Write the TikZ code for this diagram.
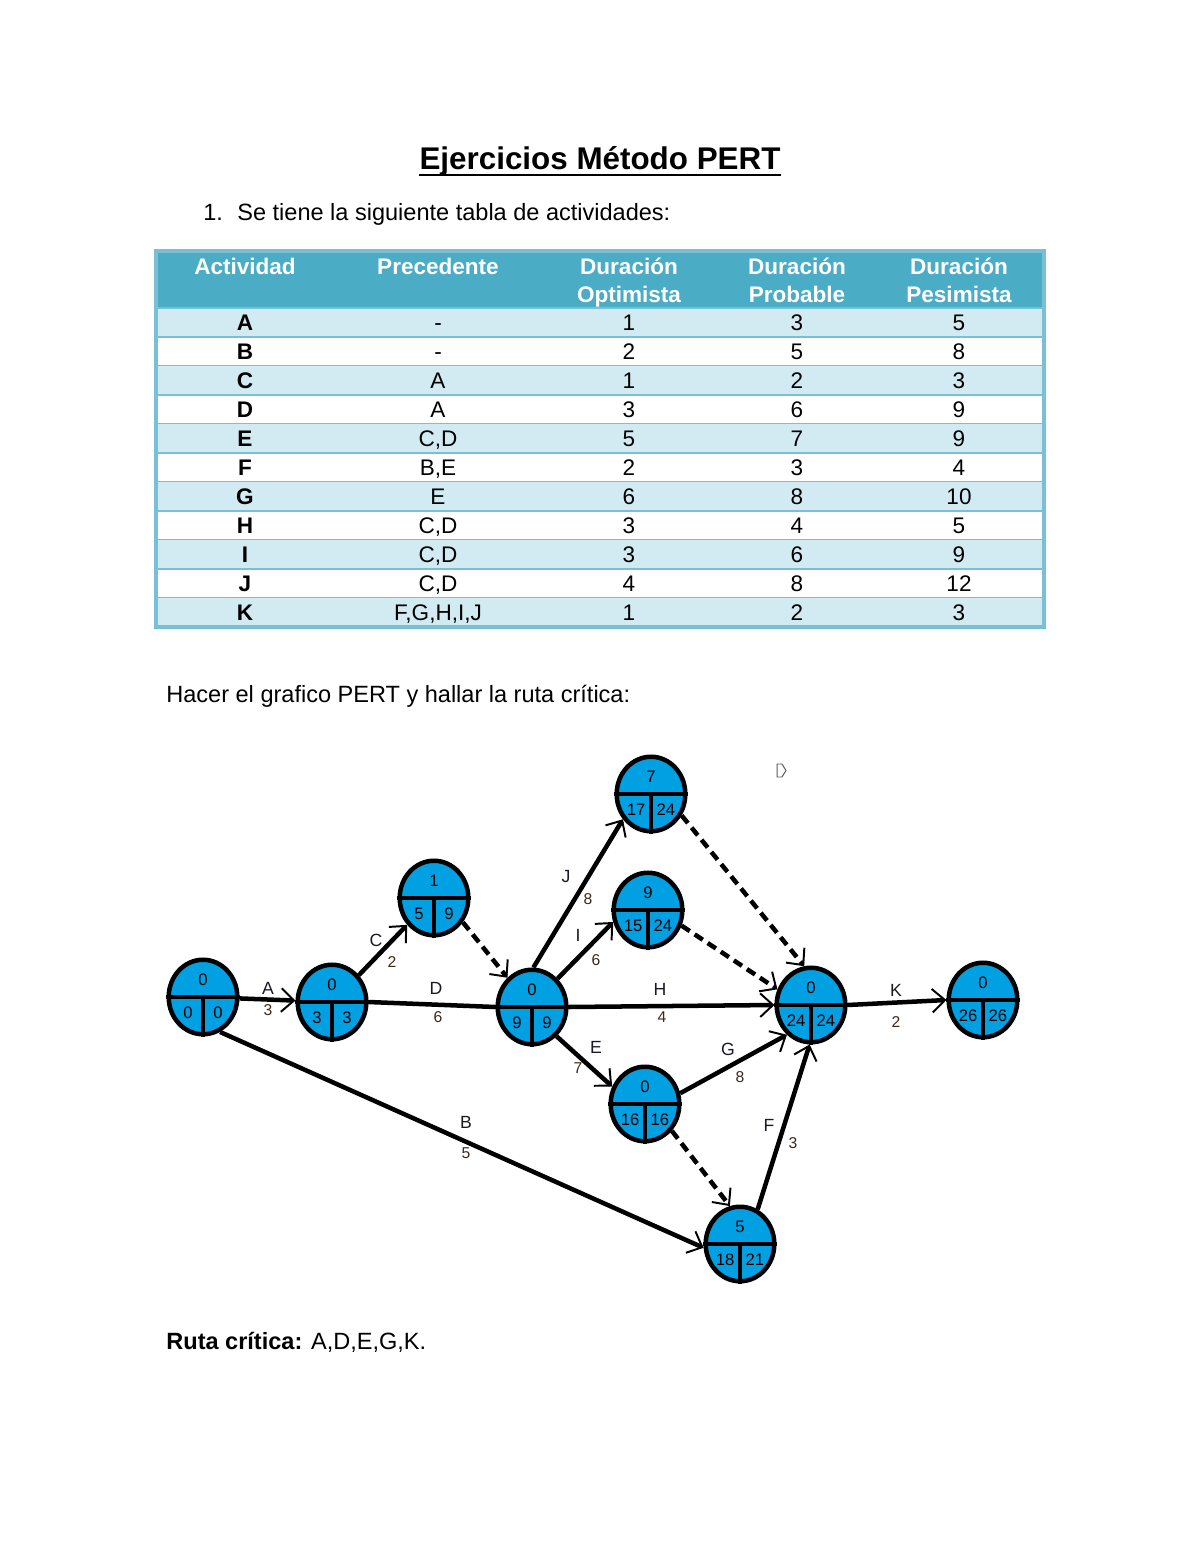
\documentclass[tikz,border=0pt]{standalone}
\usepackage{fontspec}
\setmainfont{Liberation Sans}
\usetikzlibrary{shapes.geometric,arrows.meta}
\definecolor{nodeblue}{RGB}{0,160,226}
\definecolor{headteal}{RGB}{75,172,198}
\definecolor{rowlight}{RGB}{210,234,241}
\definecolor{gridteal}{RGB}{120,192,214}
\definecolor{numcol}{RGB}{60,40,25}
\definecolor{lblcol}{RGB}{25,25,35}
\begin{document}
\begin{tikzpicture}[x=0.51pt,y=-0.51pt,
  pert/.style={ellipse, draw, line width=2.3pt, fill=nodeblue, minimum width=35pt, minimum height=38pt, inner sep=0pt},
  nt/.style={font=\fontsize{8.5}{9}\selectfont, text=black, inner sep=0pt},
  edge/.style={line width=2.3pt, -{Straight Barb[length=6.5pt,width=12pt,line width=1pt]}},
  plainedge/.style={line width=2.3pt},
  dashedge/.style={edge, dash pattern=on 5pt off 3pt},
  lbl/.style={font=\fontsize{9}{10}\selectfont, text=lblcol, inner sep=0pt},
  num/.style={font=\fontsize{8}{9}\selectfont, text=numcol, inner sep=0pt},
  hd/.style={font=\bfseries\fontsize{11.5}{12}\selectfont, text=white, inner sep=0pt, text height=8.2pt, text depth=0pt},
  td/.style={font=\fontsize{11.5}{12}\selectfont, inner sep=0pt, text height=8.2pt, text depth=0pt},
  tdb/.style={td, font=\bfseries\fontsize{11.5}{12}\selectfont},
  body/.style={font=\fontsize{12}{14}\selectfont, inner sep=0pt, anchor=base west}]
\useasboundingbox (0,0) rectangle (1200,1553);

% ---------- title and text ----------
\node[font=\bfseries\fontsize{16}{18}\selectfont, inner sep=0pt, anchor=base] (title) at (600,170) {Ejercicios Método PERT};
\draw[line width=1.2pt] ([yshift=-2.6pt]title.base west) -- ([yshift=-2.6pt]title.base east);
\node[body] (num1) at (203,221) {1.};
\node[body] (intro) at (237,221) {Se tiene la siguiente tabla de actividades:};
\node[body] (hacer) at (166,702) {Hacer el grafico PERT y hallar la ruta crítica:};
\node[body] (ruta) at (166,1349) {\textbf{Ruta crítica:} A,D,E,G,K.};

% ---------- table ----------
\fill[headteal] (156,251) rectangle (1044,308);
\foreach \i in {1,...,11}{
  \pgfmathsetmacro{\ytop}{308+29*(\i-1)}
  \pgfmathsetmacro{\ybot}{308+29*\i}
  \ifodd\i
    \fill[rowlight] (156,\ytop) rectangle (1044,\ybot);
  \fi
  \draw[gridteal, line width=1.4pt] (156,\ybot) -- (1044,\ybot);
}
\draw[gridteal, line width=1.4pt] (156,308) -- (1044,308);
\draw[gridteal, line width=1.6pt] (156,251) rectangle (1044,627);

\node[hd] (h1) at (245,266) {Actividad};
\node[hd] (h2) at (438,266) {Precedente};
\node[hd] (h3) at (629,266) {Duración};
\node[hd] (h3b) at (629,294) {Optimista};
\node[hd] (h4) at (797,266) {Duración};
\node[hd] (h4b) at (797,294) {Probable};
\node[hd] (h5) at (959,266) {Duración};
\node[hd] (h5b) at (959,294) {Pesimista};

\foreach \act/\pre/\o/\p/\q [count=\i] in {A/-/1/3/5, B/-/2/5/8, C/A/1/2/3, D/A/3/6/9, E/{C,D}/5/7/9, F/{B,E}/2/3/4, G/E/6/8/10, H/{C,D}/3/4/5, I/{C,D}/3/6/9, J/{C,D}/4/8/12, K/{F,G,H,I,J}/1/2/3}{
  \pgfmathsetmacro{\yc}{293.5+29*\i}
  \node[tdb] (ra\i) at (245,\yc) {\act};
  \node[td] (rb\i) at (438,\yc) {\pre};
  \node[td] (rc\i) at (629,\yc) {\o};
  \node[td] (rd\i) at (797,\yc) {\p};
  \node[td] (re\i) at (959,\yc) {\q};
}

% ---------- PERT nodes ----------
\newcommand\pertnode[6]{%
  \node[pert] (#1) at (#2,#3) {};
  \draw[line width=2.3pt] (#1.west) -- (#1.east);
  \draw[line width=2.3pt] (#1.center) -- (#1.south);
  \node[nt] (#1t) at ([yshift=8.6pt]#1.center) {#4};
  \node[nt] (#1l) at ([xshift=-7.6pt,yshift=-8.2pt]#1.center) {#5};
  \node[nt] (#1r) at ([xshift=7.6pt,yshift=-8.2pt]#1.center) {#6};
}
\pertnode{n1}{203}{997}{0}{0}{0}
\pertnode{n2}{332}{1002}{0}{3}{3}
\pertnode{n3}{434}{898}{1}{5}{9}
\pertnode{n4}{532}{1007}{0}{9}{9}
\pertnode{nJ}{651}{794}{7}{17}{24}
\pertnode{nI}{648}{910}{9}{15}{24}
\pertnode{nR}{811}{1005}{0}{24}{24}
\pertnode{nE}{645}{1104}{0}{16}{16}
\pertnode{nB}{740}{1244}{5}{18}{21}
\pertnode{nK}{983}{1000}{0}{26}{26}

% ---------- connectors ----------
\draw[edge] (n1) -- (n2);
\draw[edge] (n2.45) -- (n3.225);
\draw[plainedge] (n2.east) -- (n4.west);
\draw[dashedge] (n3.-40) -- (n4.130);
\draw[edge] (n4.88) -- (nJ.222);
\draw[edge] (n4.48) -- (nI.199);
\draw[edge] (n4.east) -- (nR.west);
\draw[edge] (n4.-50) -- (nE.152);
\draw[dashedge] (nJ.-35) -- (nR.100);
\draw[dashedge] (nI.-25) -- (nR.155);
\draw[edge] (nE.17) -- (nR.231);
\draw[dashedge] (nE.-45) -- (nB.105);
\draw[edge] (nB.63) -- (nR.268);
\draw[edge] (n1.-64) -- (nB.186);
\draw[edge] (nR.east) -- (nK.west);

% ---------- labels ----------
\node[lbl] (lA) at (268,988) {A};  \node[num] (dA) at (268,1010) {3};
\node[lbl] (lC) at (376,940) {C};  \node[num] (dC) at (392,962) {2};
\node[lbl] (lD) at (436,988) {D};  \node[num] (dD) at (438,1017) {6};
\node[lbl] (lJ) at (566,877) {J};  \node[num] (dJ) at (588,899) {8};
\node[lbl] (lI) at (578,935) {I};  \node[num] (dI) at (596,960) {6};
\node[lbl] (lH) at (660,989) {H};  \node[num] (dH) at (662,1017) {4};
\node[lbl] (lE) at (596,1047) {E}; \node[num] (dE) at (578,1068) {7};
\node[lbl] (lG) at (728,1049) {G}; \node[num] (dG) at (740,1077) {8};
\node[lbl] (lF) at (769,1125) {F}; \node[num] (dF) at (793,1143) {3};
\node[lbl] (lB) at (466,1122) {B}; \node[num] (dB) at (466,1153) {5};
\node[lbl] (lK) at (896,990) {K};  \node[num] (dK) at (896,1022) {2};

% small stray mark
\draw[gray!70!black, line width=0.5pt] (777,764) -- (782,764) -- (786,770.5) -- (782,777) -- (777,777) -- cycle;
\end{tikzpicture}
\end{document}
